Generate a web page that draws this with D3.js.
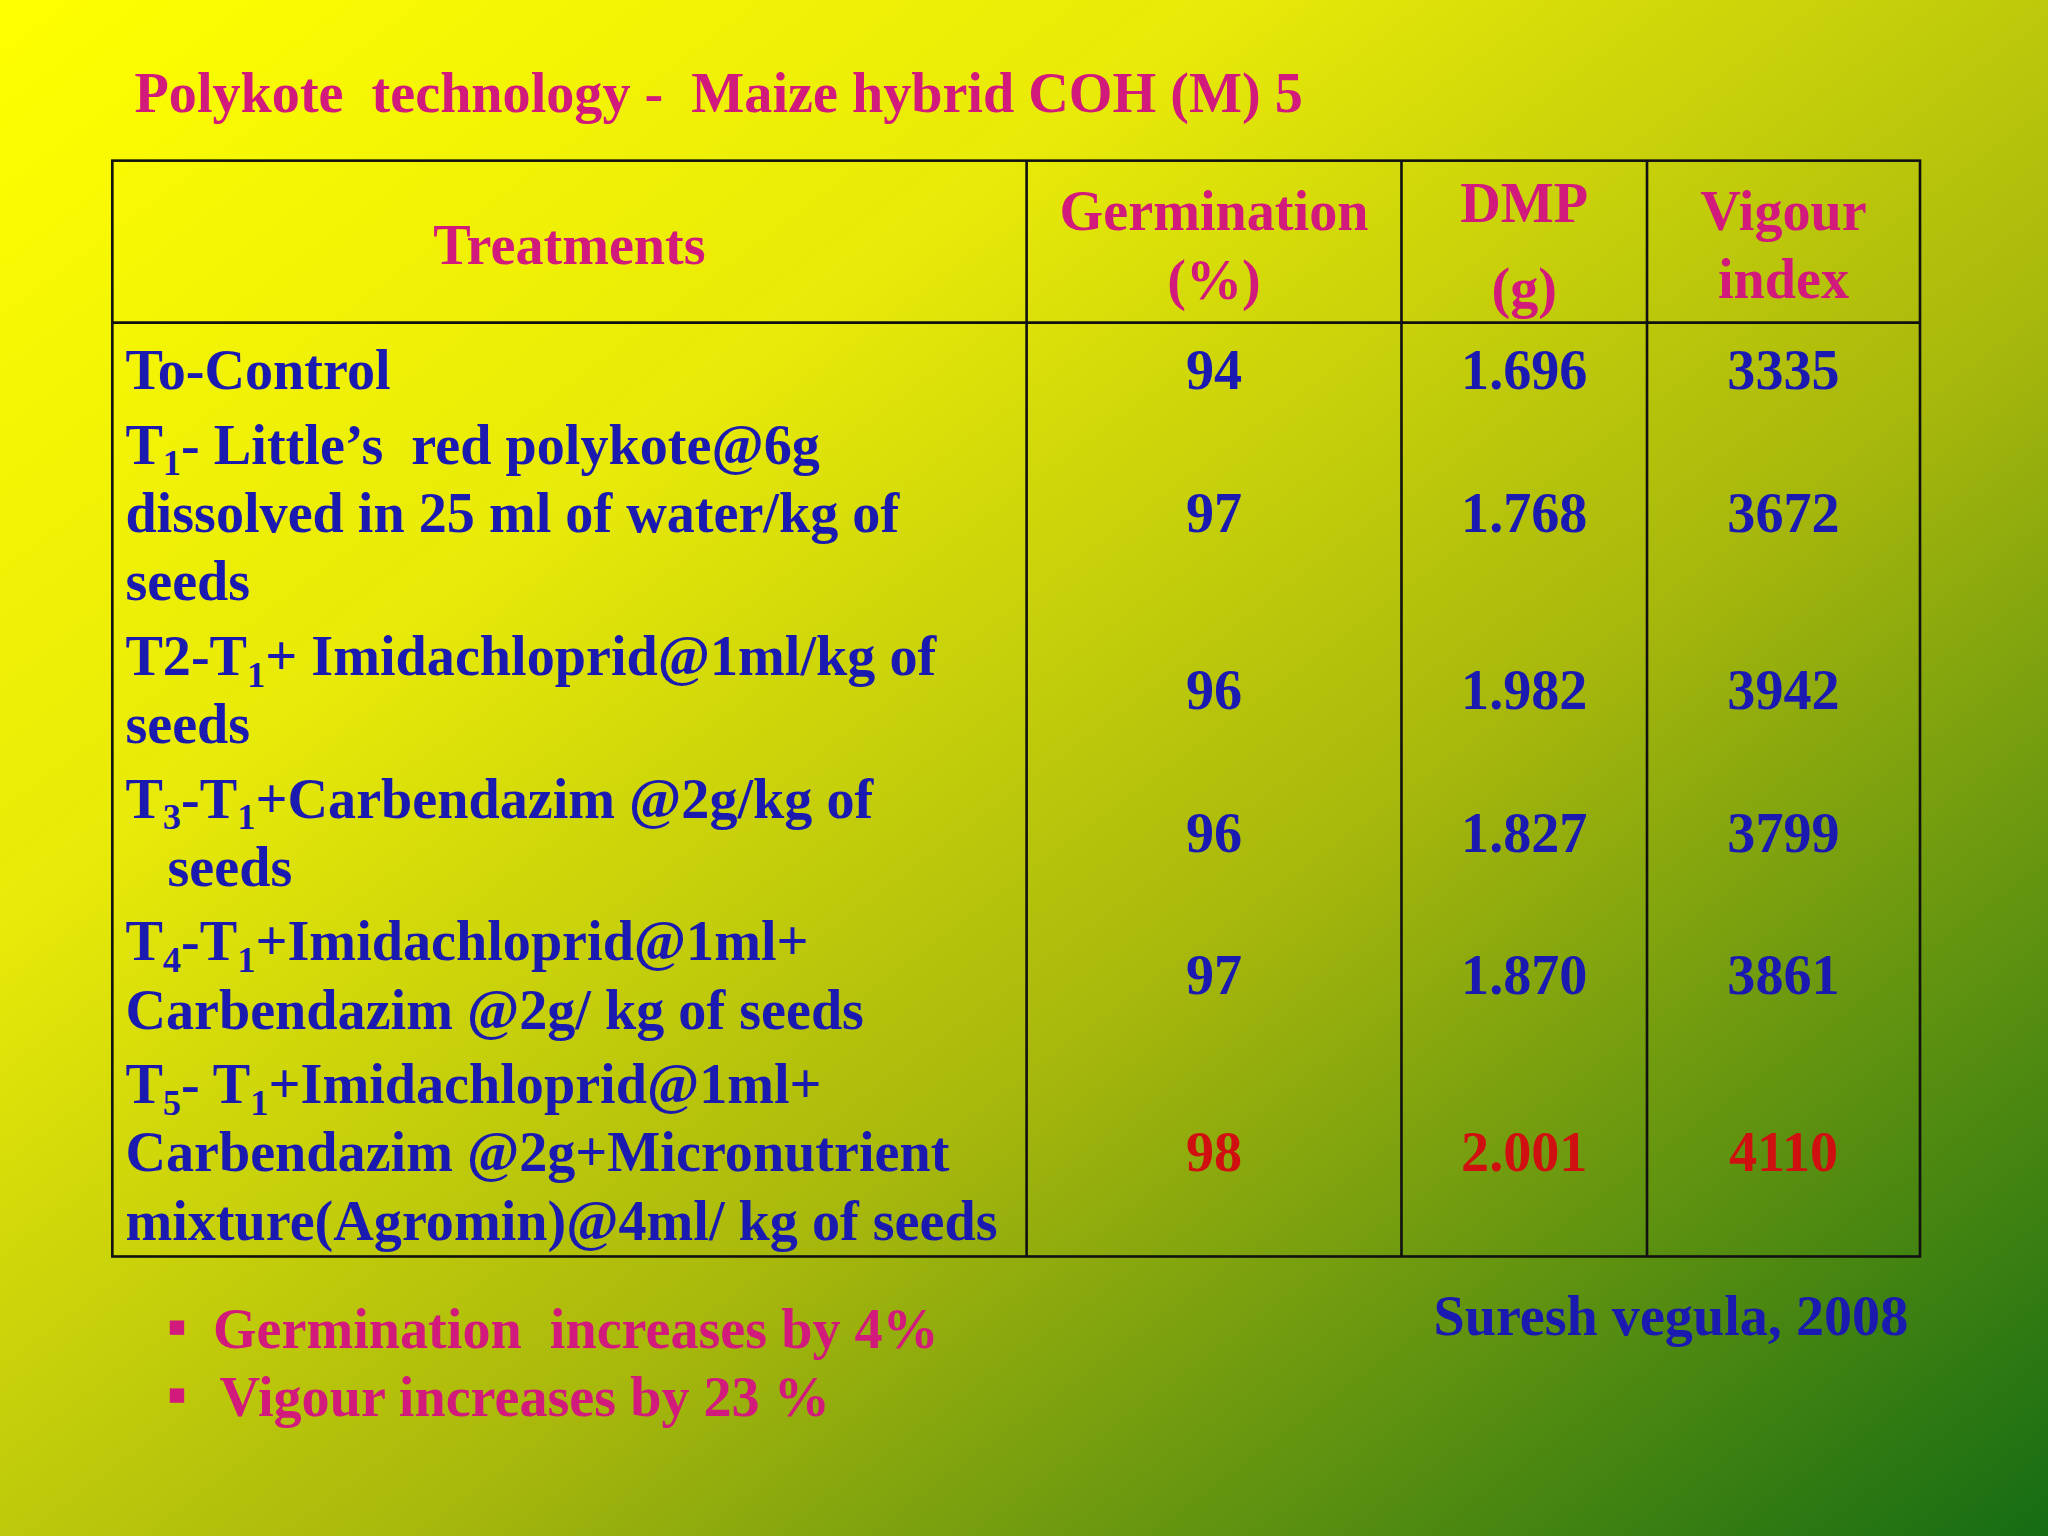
<!DOCTYPE html>
<html><head><meta charset="utf-8">
<script src="https://cdn.jsdelivr.net/npm/d3@7"></script>
<style>html,body{margin:0;padding:0;overflow:hidden}</style>
</head><body>
<script>
// table data; "_x" marks a subscript character
var title = "Polykote\u00a0 technology -\u00a0 Maize hybrid COH (M) 5";
var headers = [["Treatments"], ["Germination", "(%)"], ["DMP", "(g)"], ["Vigour", "index"]];
var treatments = [
  ["To-Control"],
  ["T_1- Little\u2019s\u00a0 red polykote@6g", "dissolved in 25 ml of water/kg of", "seeds"],
  ["T2-T_1+ Imidachloprid@1ml/kg of", "seeds"],
  ["T_3-T_1+Carbendazim @2g/kg of", "\u00a0\u00a0 seeds"],
  ["T_4-T_1+Imidachloprid@1ml+", "Carbendazim @2g/ kg of seeds"],
  ["T_5- T_1+Imidachloprid@1ml+", "Carbendazim @2g+Micronutrient", "mixture(Agromin)@4ml/ kg of seeds"]
];
var germination = ["94", "97", "96", "96", "97", "98"];
var dmp = ["1.696", "1.768", "1.982", "1.827", "1.870", "2.001"];
var vigour = ["3335", "3672", "3942", "3799", "3861", "4110"];
var notes = ["Germination\u00a0 increases by 4%", "Vigour increases by 23 %"];
var citation = "Suresh vegula, 2008";

var W = 1568, H = 1176, FS = 43;
var pink = "#d2197c", blue = "#1a1ab0", red = "#d01010";
var svg = d3.select("body").append("svg")
  .attr("width", 2048).attr("height", 1536)
  .attr("viewBox", "0 0 " + W + " " + H)
  .style("font-family", "'Liberation Serif', 'Times New Roman', serif")
  .style("font-weight", "bold");

var grad = svg.append("defs").append("linearGradient").attr("id", "bg")
  .attr("x1", "0").attr("y1", "0").attr("x2", "1").attr("y2", "1");
grad.append("stop").attr("offset", "0").attr("stop-color", "#ffff00");
grad.append("stop").attr("offset", "0.3").attr("stop-color", "#e8ea08");
grad.append("stop").attr("offset", "0.6").attr("stop-color", "#a8b80c");
grad.append("stop").attr("offset", "1").attr("stop-color", "#156c14");
svg.append("rect").attr("width", W).attr("height", H).attr("fill", "url(#bg)");

svg.append("text").attr("x", 103).attr("y", 86).attr("font-size", FS)
  .attr("fill", pink).text(title);

var colX = [86, 786, 1073, 1261, 1470];
var tableTop = 123, headBottom = 247, tableBottom = 962;
var lineStep = 52.3, rowGap = 57, firstLine = 283;

function addText(sel, s) {
  s.split(/(_.)/).forEach(function (p) {
    if (!p) return;
    if (p[0] === "_" && p.length === 2) {
      sel.append("tspan").attr("font-size", "65%").attr("dy", 9).text(p[1]);
      sel.append("tspan").attr("dy", -9).text("\u200b");
    } else sel.append("tspan").text(p);
  });
}

// table lines
var g = svg.append("g").attr("stroke", "#111").attr("stroke-width", 2);
g.append("rect").attr("x", colX[0]).attr("y", tableTop).attr("width", colX[4] - colX[0])
  .attr("height", tableBottom - tableTop).attr("fill", "none");
g.append("line").attr("x1", colX[0]).attr("x2", colX[4]).attr("y1", headBottom).attr("y2", headBottom);
colX.slice(1, 4).forEach(function (x) {
  g.append("line").attr("x1", x).attr("x2", x).attr("y1", tableTop).attr("y2", tableBottom);
});

// headers
var headY = [[187], [161, 214], [155, 220], [161, 213]];
headers.forEach(function (h, i) {
  var cx = (colX[i] + colX[i + 1]) / 2;
  h.forEach(function (t, j) {
    svg.append("text").attr("x", cx).attr("y", headY[i][j]).attr("dy", "0.35em")
      .attr("text-anchor", "middle").attr("font-size", FS).attr("fill", pink).text(t);
  });
});

// body rows
var y = firstLine;
treatments.forEach(function (lines, r) {
  var ys = [];
  lines.forEach(function (l) {
    var t = svg.append("text").attr("x", 96).attr("y", y).attr("dy", "0.35em")
      .attr("font-size", FS).attr("fill", blue);
    addText(t, l);
    ys.push(y);
    y += lineStep;
  });
  y += rowGap - lineStep;
  var cy = d3.mean(ys);
  var col = r === treatments.length - 1 ? red : blue;
  [germination, dmp, vigour].forEach(function (arr, c) {
    svg.append("text").attr("x", (colX[c + 1] + colX[c + 2]) / 2).attr("y", cy)
      .attr("dy", "0.35em").attr("text-anchor", "middle").attr("font-size", FS)
      .attr("fill", col).text(arr[r]);
  });
});

// notes
var noteX = [163, 168], noteY = [1017, 1069];
notes.forEach(function (n, i) {
  svg.append("rect").attr("x", 130).attr("y", noteY[i] - 6).attr("width", 11).attr("height", 11)
    .attr("fill", pink);
  svg.append("text").attr("x", noteX[i]).attr("y", noteY[i]).attr("dy", "0.35em")
    .attr("font-size", FS).attr("fill", pink).text(n);
});
svg.append("text").attr("x", 1461).attr("y", 1007).attr("dy", "0.35em")
  .attr("text-anchor", "end").attr("font-size", FS).attr("fill", blue).text(citation);
</script>
</body></html>
